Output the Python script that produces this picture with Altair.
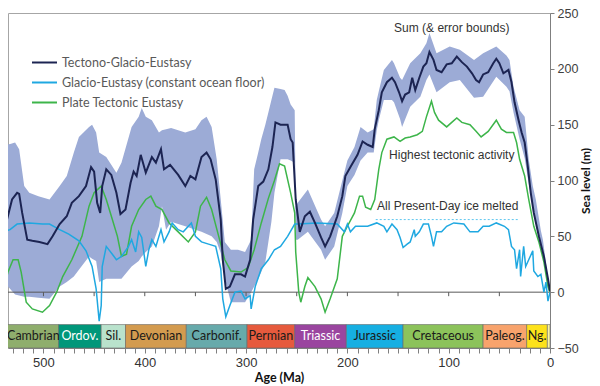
import altair as alt
import pandas as pd

# ---------------- data (age in Ma, sea level in m) ----------------
tge = [(540,49),(536,65),(531,83),(526,89),(524,88),(521,71),(516,47),(511,46),(504,45),(496,43),
       (491,50),(484,61),(477,68),(472,80),(465,86),(458,95),(453,112),(450,108),(447,80),(444,71),
       (442,95),(438,110),(433,105),(428,89),(424,70),(419,74),(414,98),(411,108),(408,104),(404,123),
       (399,107),(393,121),(389,116),(384,128),(381,110),(375,114),(367,105),(360,95),(355,104),(350,101),
       (344,121),(339,125),(335,119),(330,101),(325,65),(323,29),(320,3),(316,5),(311,16),(305,16),
       (301,14),(296,29),(293,65),(288,95),(283,99),(278,110),(274,130),(271,152),(266,150),(259,150),
       (256,137),(254,134),(251,83),(247,54),(242,68),(237,72),(232,62),(226,49),(222,41),(217,50),
       (210,68),(205,86),(202,104),(197,112),(190,123),(185,135),(180,132),(175,130),(173,146),(169,163),
       (166,179),(161,188),(156,192),(153,188),(149,179),(146,171),(143,177),(139,179),(136,192),(133,181),
       (129,192),(125,202),(122,205),(119,215),(115,208),(112,199),(107,197),(102,204),(97,205),(92,211),
       (87,206),(82,202),(77,196),(73,190),(70,188),(66,195),(61,197),(56,205),(53,209),(50,205),
       (46,196),(41,199),(38,188),(35,170),(31,154),(28,143),(25,134),(22,113),(19,89),(16,71),
       (11,50),(6,32),(2,12),(0,1)]

glacio = [(540,54),(533,56),(526,61),(514,62),(501,61),(494,61),(484,56),(475,52),(465,46),(458,37),
          (452,23),(448,3),(445,-26),(443,-12),(442,23),(438,41),(432,34),(428,29),(423,32),(416,41),
          (413,47),(409,36),(406,54),(403,49),(399,23),(396,38),(393,47),(389,41),(384,56),(381,45),
          (376,54),(373,62),(367,56),(362,54),(357,59),(354,62),(350,50),(344,45),(337,43),(330,41),
          (325,21),(323,-6),(320,-22),(316,-12),(311,0),(305,1),(301,-6),(296,-3),(295,-15),(291,5),
          (285,21),(278,29),(272,38),(266,41),(259,50),(252,61),(249,61),(230,62),(210,61),(203,54),
          (200,61),(197,54),(192,59),(180,59),(171,62),(164,59),(161,54),(156,61),(151,56),(148,49),
          (145,40),(141,43),(138,45),(134,56),(133,50),(129,54),(125,61),(120,61),(117,50),(115,41),
          (112,54),(107,54),(102,59),(95,62),(85,61),(79,54),(71,54),(66,59),(60,59),(53,62),
          (45,59),(41,56),(38,41),(35,38),(33,21),(30,38),(29,14),(26,41),(24,23),(21,29),
          (17,37),(16,19),(12,14),(9,16),(6,0),(4,9),(2,-8),(0,0)]

plate = [(540,1),(535,18),(530,29),(525,29),(522,18),(517,-9),(511,-15),(501,-18),(494,-12),(487,0),
         (481,14),(472,29),(462,50),(455,77),(450,89),(443,95),(438,83),(432,65),(427,50),(423,32),
         (418,34),(413,59),(406,74),(399,83),(394,86),(389,77),(383,74),(376,62),(367,54),(357,45),
         (350,54),(345,77),(339,85),(334,74),(327,50),(321,29),(315,19),(305,18),(298,22),(292,38),
         (285,62),(278,84),(272,100),(267,115),(262,113),(256,89),(252,71),(251,36),(248,0),(246,-9),
         (242,5),(239,13),(232,5),(226,-6),(222,-18),(217,-6),(210,12),(205,50),(200,59),(193,71),
         (188,86),(185,86),(182,76),(177,74),(173,83),(169,110),(166,125),(161,137),(154,139),(148,135),
         (143,138),(138,139),(131,141),(126,144),(122,157),(117,171),(114,161),(110,154),(102,148),(97,152),
         (92,156),(87,152),(79,150),(73,144),(68,139),(61,144),(53,154),(48,146),(43,143),(36,143),
         (33,134),(30,119),(25,104),(21,83),(16,59),(11,45),(6,27),(2,5),(0,0)]

# error band: (age, upper, lower)
band = [(540,130,6),(536,132,6),(532,133,2),(528,134,-2),(524,128,-3),(519,95,-4),(514,89,-4),
        (505,86,-5),(494,83,-6),(484,95,5),(477,104,9),(470,125,14),(465,139,20),(455,148,32),
        (452,150,30),(448,143,28),(445,125,9),(438,121,12),(428,107,12),(423,116,12),(413,148,23),
        (406,157,28),(403,165,32),(399,157,36),(393,154,41),(386,143,59),(383,145,77),(379,146,56),
        (374,147,63),(360,143,59),(350,146,56),(344,154,54),(339,157,52),(334,148,50),(329,119,45),
        (325,83,35),(321,45,12),(315,38,-9),(308,38,-9),(301,36,-9),(295,47,0),(292,110,5),
        (288,125,12),(285,137,18),(281,150,27),(278,161,45),(275,172,63),(272,183,89),(266,182,119),
        (262,181,119),(259,176,119),(256,168,118),(252,163,116),(251,77,47),(249,80,47),(239,92,54),
        (226,65,38),(222,59,29),(213,71,41),(205,100,71),(200,118,95),(193,130,105),(187,148,118),
        (180,143,125),(174,146,125),(171,172,145),(169,180,154),(164,199,172),(156,208,172),
        (154,205,170),(148,192,155),(146,190,148),(138,205,166),(128,214,175),(122,223,190),
        (119,232,195),(112,214,179),(99,220,188),(89,217,190),(75,208,174),(66,214,175),
        (53,220,193),(43,212,184),(40,208,180),(36,184,161),(30,163,137),(25,157,120),(21,119,97),
        (17,95,77),(14,83,62),(9,55,41),(7,47,33),(2,12,3),(0,2,-2)]

# geologic periods: (label, start, end, fill, text colour)
periods = [("Cambrian", 541, 485, "#8fae6d", "#1a1a1a"),
           ("Ordov.", 485, 443, "#00977a", "#ffffff"),
           ("Sil.", 443, 419, "#b9e2cc", "#1a1a1a"),
           ("Devonian", 419, 359, "#d39b4f", "#1a1a1a"),
           ("Carbonif.", 359, 299, "#67aaab", "#1a1a1a"),
           ("Permian", 299, 252, "#e65a3d", "#1a1a1a"),
           ("Triassic", 252, 201, "#9a459f", "#ffffff"),
           ("Jurassic", 201, 145, "#16afe2", "#1a1a1a"),
           ("Cretaceous", 145, 66, "#8cc35b", "#1a1a1a"),
           ("Paleog.", 66, 23, "#f8a36c", "#1a1a1a"),
           ("Ng.", 23, 2.6, "#fde21b", "#1a1a1a"),
           ("", 2.6, 0, "#fbf6a2", "#1a1a1a")]
period_top, period_bottom = -29, -50

series_names = ["Tectono-Glacio-Eustasy", "Glacio-Eustasy (constant ocean floor)", "Plate Tectonic Eustasy"]
series_colors = ["#1c2452", "#1fa8e1", "#3db54a"]
series_widths = [2.0, 1.5, 1.5]

annotations = [("Sum (& error bounds)", 97, 237),
               ("Highest tectonic activity", 97, 123),
               ("All Present-Day ice melted", 101, 77)]
ice_level, ice_from, ice_to = 65, 172, 30

zero_tick_ages = [500, 450, 400, 350, 300, 250, 200, 150, 100, 50]
x_tick_values = list(range(0, 531, 10))
y_tick_values = [-50, 0, 50, 100, 150, 200, 250]
X_MAX = 535

# ---------------- tables ----------------
band_df = pd.DataFrame(band, columns=["age", "hi", "lo"])
frames = []
for name, rows in zip(series_names, [tge, glacio, plate]):
    d = pd.DataFrame(rows, columns=["age", "val"])
    d["series"] = name
    frames.append(d)
lines_df = pd.concat(frames, ignore_index=True)
per_df = pd.DataFrame(periods, columns=["label", "start", "end", "fill", "tcol"])
per_df["mid"] = (per_df["start"].clip(upper=X_MAX) + per_df["end"]) / 2
per_df["top"] = period_top
per_df["bottom"] = period_bottom
per_df["ymid"] = (period_top + period_bottom) / 2
ann_df = pd.DataFrame(annotations, columns=["text", "age", "val"])
zt_df = pd.DataFrame({"age": zero_tick_ages, "y0": 0, "y1": -3.6})

xs = alt.Scale(domain=[X_MAX, 0], nice=False, zero=False)
ys = alt.Scale(domain=[-50, 250], nice=False, zero=False)

x_axis = alt.Axis(values=x_tick_values, labelExpr="datum.value % 100 == 0 ? datum.label : ''",
                  tickSize=5, tickColor="#7f7f7f", domainColor="#7f7f7f", labelFontSize=13,
                  labelFont="Liberation Sans", labelColor="#333333", labelPadding=3,
                  labelOverlap=False, labelFlush=False, grid=False,
                  title="Age (Ma)", titleFont="Lato", titleFontSize=12.5, titleFontWeight="bold",
                  titleColor="#111111", titlePadding=2)
y_axis = alt.Axis(orient="right", values=y_tick_values, tickSize=4, tickColor="#7f7f7f",
                  domainColor="#7f7f7f", labelFontSize=12.5, labelFont="Liberation Sans",
                  labelColor="#404040", labelPadding=3, grid=False,
                  title="Sea level (m)", titleFont="Lato", titleFontSize=12, titleFontWeight="bold",
                  titleColor="#111111", titleAngle=270, titleBaseline="top", titlePadding=2)


def X(field):
    return alt.X(field, type="quantitative", scale=xs, axis=x_axis)


def Y(field):
    return alt.Y(field, type="quantitative", scale=ys, axis=y_axis)


band_layer = alt.Chart(band_df).mark_area(color="#9cabd6", opacity=1, clip=True).encode(
    x=X("age"), y=Y("hi"), y2="lo:Q")

zero_line = alt.Chart(pd.DataFrame({"v": [0]})).mark_rule(color="#595959", strokeWidth=1).encode(
    y=Y("v"))

zero_ticks = alt.Chart(zt_df).mark_rule(color="#595959", strokeWidth=1).encode(
    x=X("age"), y=Y("y0"), y2="y1:Q")

legend = alt.Legend(orient="none", legendX=23, legendY=36, title=None,
                    symbolType="stroke", symbolStrokeWidth=2, symbolSize=625,
                    labelFont="Lato", labelFontSize=12.5, labelColor="#595959", labelLimit=0,
                    rowPadding=-10, padding=0, labelOffset=4)

line_layers = []
for name, w in reversed(list(zip(series_names, series_widths))):
    line_layers.append(
        alt.Chart(lines_df).transform_filter(alt.datum.series == name).mark_line(
            clip=True, strokeWidth=w).encode(
            x=X("age"), y=Y("val"),
            color=alt.Color("series:N", scale=alt.Scale(domain=series_names, range=series_colors),
                            legend=legend)))

ice_line = alt.Chart(pd.DataFrame({"a": [ice_from], "b": [ice_to], "v": [ice_level]})).mark_rule(
    color="#5cc6ef", strokeDash=[2, 2], strokeWidth=1).encode(
    x=X("a"), x2="b:Q", y=Y("v"))

ann = alt.Chart(ann_df).mark_text(font="Liberation Sans", fontSize=12, color="#333333",
                                  align="center", baseline="middle").encode(
    x=X("age"), y=Y("val"), text="text:N")

per_rects = alt.Chart(per_df).mark_rect(stroke="#666666", strokeWidth=0.6, clip=True).encode(
    x=X("start"), x2="end:Q", y=Y("top"), y2="bottom:Q",
    fill=alt.Fill("fill:N", scale=None))

per_text = alt.Chart(per_df).mark_text(font="Lato", fontSize=12.5, baseline="middle",
                                       align="center").encode(
    x=X("mid"), y=Y("ymid"), text="label:N", color=alt.Color("tcol:N", scale=None))

chart = alt.layer(band_layer, zero_line, zero_ticks, *line_layers, ice_line, ann,
                  per_rects, per_text).properties(
    width=542, height=335,
    autosize=alt.AutoSizeParams(type="none"),
    padding={"left": 0, "top": 5, "right": 42, "bottom": 38},
).configure_view(stroke="#a6a6a6", strokeWidth=1)

chart.save("out.html", embed_options={"renderer": "svg", "actions": False})
